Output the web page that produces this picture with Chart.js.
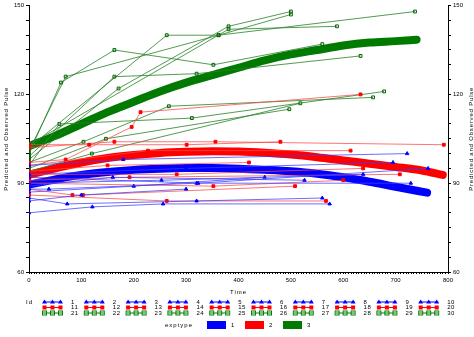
<!DOCTYPE html>
<html lang="en">
  <head>
    <meta charset="UTF-8" />
    <title>Predicted and Observed Pulse</title>
    <script src="https://cdn.jsdelivr.net/npm/chart.js@4"></script>
    <style>
      html, body { margin: 0; padding: 0; background: #fff; }
    </style>
  </head>
  <body>
    <canvas id="myChart" width="474" height="337"></canvas>

    <script>
      // predicted curves (one per exptype)
      var predTime1 = [0, 50, 100, 150, 200, 250, 300, 350, 400, 450, 500, 550, 600, 650, 700, 760];
      var predPulse1 = [89.5, 91.3, 92.8, 93.8, 94.5, 94.9, 95.1, 95.1, 94.9, 94.5, 94, 93.2, 92, 90.5, 88.8, 86.8];
      var predTime2 = [0, 50, 100, 150, 200, 250, 300, 350, 400, 450, 500, 550, 600, 650, 700, 750, 790];
      var predPulse2 = [92.8, 95, 97, 98.5, 99.5, 100.2, 100.6, 100.8, 100.7, 100.3, 99.7, 98.8, 97.7, 96.6, 95.5, 94.3, 92.8];
      var predTime3 = [0, 50, 100, 150, 200, 250, 300, 350, 400, 450, 500, 550, 600, 650, 700, 740];
      var predPulse3 = [102.5, 106, 110, 114, 117.5, 121, 124, 126.5, 129, 131.5, 133.5, 135, 136.5, 137.5, 138, 138.5];

      // observed [time, pulse] per id, exptype 1 = ids 1-10
      var obsType1 = [
        [[0, 96], [180, 98], [722, 100]],
        [[0, 93], [300, 95], [695, 97]],
        [[0, 92], [323, 90], [762, 95]],
        [[0, 90], [253, 91], [638, 93]],
        [[0, 89], [160, 92], [526, 91]],
        [[0, 88], [38, 88], [320, 90], [729, 90]],
        [[0, 85], [73, 83], [320, 84], [560, 85]],
        [[0, 80], [121, 82], [256, 83], [574, 83]],
        [[0, 87], [200, 89], [450, 92]],
        [[0, 84], [100, 86], [300, 88]]
      ];
      // exptype 2 = ids 11-20
      var obsType2 = [
        [[0, 103], [115, 103], [301, 103], [480, 104]],
        [[0, 102], [163, 104], [356, 104], [792, 103]],
        [[0, 97], [70, 98], [196, 109], [213, 114], [633, 120]],
        [[0, 96], [227, 101], [614, 101]],
        [[0, 93], [282, 93], [638, 95]],
        [[0, 91], [192, 92], [708, 93]],
        [[0, 88], [83, 86], [103, 86], [508, 89]],
        [[0, 86], [263, 84], [567, 84]],
        [[0, 90], [352, 89], [600, 91]],
        [[0, 94], [150, 96], [420, 97]]
      ];
      // exptype 3 = ids 21-30
      var obsType3 = [
        [[0, 100], [61, 124], [163, 135], [352, 130], [560, 137]],
        [[0, 101], [70, 126], [362, 140], [500, 147]],
        [[0, 99], [163, 126], [320, 127], [633, 133]],
        [[0, 102], [263, 140], [362, 140], [737, 148]],
        [[0, 98], [171, 122], [381, 143], [500, 148]],
        [[0, 103], [381, 142], [588, 143]],
        [[0, 97], [104, 104], [267, 116], [657, 119]],
        [[0, 96], [58, 110], [311, 112], [678, 121]],
        [[0, 95], [147, 105], [497, 115]],
        [[0, 94], [120, 100], [518, 117]]
      ];

      var xLabels = [0, 100, 200, 300, 400, 500, 600, 700, 800];
      var yLabels = [60, 90, 120, 150];
      var exptypes = ["1", "2", "3"];

      var colBlue = "#0000ff", colRed = "#ff0000", colGreen = "#007a00";
      var FONT = "Liberation Sans";

      function toXY(t, p) {
        return t.map(function (v, i) { return { x: v, y: p[i] }; });
      }
      function pairs(list) {
        return list.map(function (a) { return { x: a[0], y: a[1] }; });
      }

      var datasets = [];
      // thick predicted curves, under the thin observed lines
      [[predTime3, predPulse3, colGreen], [predTime2, predPulse2, colRed], [predTime1, predPulse1, colBlue]].forEach(function (d) {
        datasets.push({
          data: toXY(d[0], d[1]),
          borderColor: d[2],
          borderWidth: 8,
          borderCapStyle: "round",
          borderJoinStyle: "round",
          cubicInterpolationMode: "monotone",
          pointRadius: 0,
          order: 1
        });
      });
      function addObs(list, line, mark, style, fill) {
        list.forEach(function (s) {
          datasets.push({
            data: pairs(s),
            borderColor: line,
            borderWidth: 1,
            pointStyle: style,
            pointRadius: 2,
            pointBorderWidth: 1,
            pointBorderColor: mark,
            pointBackgroundColor: fill,
            order: 0
          });
        });
      }
      addObs(obsType1, "rgba(60,60,255,0.75)", colBlue, "triangle", colBlue);
      addObs(obsType2, "rgba(255,70,70,0.75)", colRed, "rect", colRed);
      addObs(obsType3, "rgba(40,130,40,0.8)", "#006400", "rect", "rgba(0,0,0,0)");

      function marker(ctx, kind, x, y, color) {
        ctx.strokeStyle = color;
        ctx.fillStyle = color;
        ctx.lineWidth = 1;
        if (kind === "triangle") {
          ctx.beginPath();
          ctx.moveTo(x, y - 2.5);
          ctx.lineTo(x + 2.5, y + 1.5);
          ctx.lineTo(x - 2.5, y + 1.5);
          ctx.closePath();
          ctx.fill();
        } else if (kind === "fill") {
          ctx.fillRect(x - 2, y - 2, 4, 4);
        } else {
          ctx.strokeRect(x - 2, y - 2, 4, 4);
        }
      }

      var decor = {
        id: "decor",
        afterDraw: function (chart) {
          var ctx = chart.ctx;
          var area = chart.chartArea;
          ctx.save();
          ctx.fillStyle = "#000";
          ctx.textBaseline = "middle";

          // axis titles
          var title = "Predicted and Observed Pulse";
          ctx.font = "6px " + FONT;
          ctx.letterSpacing = "0px";
          var w = ctx.measureText(title).width;
          ctx.letterSpacing = ((104 - w) / title.length).toFixed(2) + "px";
          var cy = (area.top + area.bottom) / 2;
          [6, 471].forEach(function (x) {
            ctx.save();
            ctx.translate(x, cy);
            ctx.rotate(-Math.PI / 2);
            ctx.textAlign = "center";
            ctx.fillText(title, 0, 0);
            ctx.restore();
          });
          ctx.letterSpacing = "1px";
          ctx.textAlign = "center";
          ctx.fillText("Time", (area.left + area.right) / 2, 292);

          // id legend
          ctx.textAlign = "left";
          ctx.fillText("Id", 26, 302);
          var rows = [
            { y: 302, color: colBlue, kind: "triangle" },
            { y: 307.5, color: colRed, kind: "fill" },
            { y: 313, color: "#008000", kind: "open" }
          ];
          for (var r = 0; r < 3; r++) {
            for (var c = 0; c < 10; c++) {
              var x0 = 43 + c * 41.8;
              var y = rows[r].y;
              ctx.strokeStyle = rows[r].color;
              ctx.lineWidth = 1;
              ctx.beginPath();
              ctx.moveTo(x0, y);
              ctx.lineTo(x0 + 19, y);
              ctx.stroke();
              [x0 + 1.5, x0 + 9.5, x0 + 17.5].forEach(function (mx) {
                marker(ctx, rows[r].kind, mx, y, rows[r].color);
              });
              ctx.fillStyle = "#000";
              ctx.letterSpacing = "0.5px";
              ctx.fillText(String(r * 10 + c + 1), x0 + 28, y);
            }
          }

          // exptype legend
          ctx.fillStyle = "#000";
          ctx.letterSpacing = "1px";
          ctx.fillText("exptype", 165, 325);
          var boxes = [[207, colBlue], [245, colRed], [283, colGreen]];
          boxes.forEach(function (b, i) {
            ctx.fillStyle = b[1];
            ctx.fillRect(b[0], 321, 19, 8);
            ctx.fillStyle = "#000";
            ctx.fillText(exptypes[i], b[0] + 24, 325);
          });
          ctx.restore();
        }
      };

      function yTickLabel(v) {
        return yLabels.indexOf(v) >= 0 ? String(v) : "";
      }
      function yAxis(pos, width) {
        return {
          type: "linear",
          position: pos,
          min: 60,
          max: 150,
          afterBuildTicks: function (s) {
            s.ticks = [];
            for (var v = 60; v <= 150; v += 5) s.ticks.push({ value: v });
          },
          afterFit: function (s) { s.width = width; },
          grid: { drawOnChartArea: false, drawTicks: true, tickLength: 3, color: "#000" },
          border: { display: true, color: "#000", width: 1 },
          ticks: {
            autoSkip: false,
            padding: 2,
            color: "#000",
            font: { family: FONT, size: 6 },
            callback: yTickLabel
          }
        };
      }

      var ctx = document.getElementById("myChart").getContext("2d");
      var myChart = new Chart(ctx, {
        type: "line",
        data: { datasets: datasets },
        plugins: [decor],
        options: {
          responsive: false,
          animation: false,
          layout: { padding: { top: 2, left: 0, right: 0, bottom: 0 } },
          plugins: { legend: { display: false }, tooltip: { enabled: false } },
          elements: { line: { tension: 0 } },
          scales: {
            x: {
              type: "linear",
              min: 0,
              max: 800,
              afterBuildTicks: function (s) {
                s.ticks = [];
                for (var v = 0; v <= 800; v += 5) s.ticks.push({ value: v });
              },
              afterFit: function (s) { s.height = 65; },
              grid: { drawOnChartArea: false, drawTicks: true, tickLength: 2, color: "#000" },
              border: { display: true, color: "#000", width: 1 },
              ticks: {
                autoSkip: false,
                maxRotation: 0,
                padding: 3,
                color: "#000",
                font: { family: FONT, size: 6 },
                callback: function (v) { return xLabels.indexOf(v) >= 0 ? String(v) : ""; }
              }
            },
            y: yAxis("left", 29),
            y2: yAxis("right", 26)
          }
        }
      });
    </script>
  </body>
</html>
